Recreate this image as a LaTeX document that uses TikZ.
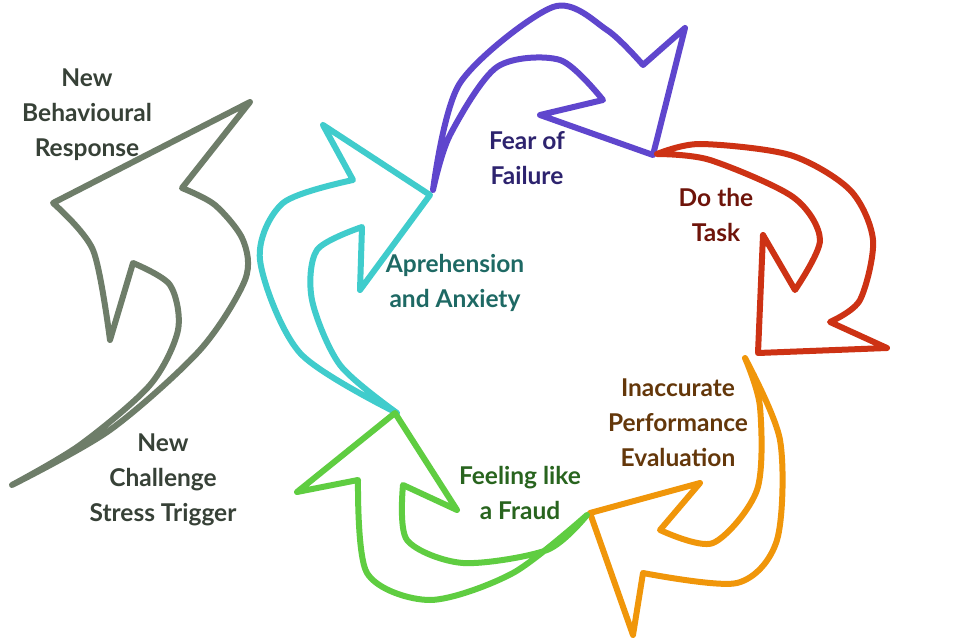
\documentclass[tikz,border=0pt]{standalone}
\usepackage{fontspec}
\setmainfont{Lato}
\definecolor{cgray}{RGB}{110,125,105}\definecolor{tgray}{RGB}{55,65,55}
\definecolor{ccyan}{RGB}{64,204,204}\definecolor{tcyan}{RGB}{30,105,100}
\definecolor{cpur}{RGB}{95,70,205}\definecolor{tpur}{RGB}{45,35,110}
\definecolor{cred}{RGB}{205,50,20}\definecolor{tred}{RGB}{110,20,10}
\definecolor{corg}{RGB}{240,150,10}\definecolor{torg}{RGB}{100,55,10}
\definecolor{cgrn}{RGB}{95,205,65}\definecolor{tgrn}{RGB}{40,100,30}
\begin{document}
\begin{tikzpicture}[x=1pt,y=-1pt,
  arr/.style={line width=6pt,line join=round,draw=#1,fill=white},
  lbl/.style={align=center,font=\bfseries\fontsize{24.5}{35}\selectfont}]
\useasboundingbox (0,0) rectangle (980,644);
% gray
\draw[arr=cgray] (12,485) -- plot[smooth] coordinates {(12,485)(110,430)(200,350)(245,280)(243,240)(215,205)(182,188)}
  -- (250,102) -- (53,203) -- plot[smooth] coordinates {(53,203)(93,250)(110,340)} -- (133,263)
  -- plot[smooth] coordinates {(133,263)(170,285)(178,330)(150,385)(80,445)(12,485)} -- cycle;
% cyan
\draw[arr=ccyan] (397,413) -- plot[smooth] coordinates {(397,413)(300,353)(260,260)(283,203)(353,180)}
  -- (323,125) -- (430,195) -- (360,290) -- (362,227)
  -- plot[smooth] coordinates {(362,227)(317,250)(312,300)(340,365)(397,413)} -- cycle;
% purple
\draw[arr=cpur] (433,190) -- plot[smooth] coordinates {(433,190)(460,83)(553,7)(607,30)(643,65)}
  -- (685,28) -- (653,155) -- (540,115) -- (603,100)
  -- plot[smooth] coordinates {(603,100)(560,60)(497,67)(450,135)(433,190)} -- cycle;
% red
\draw[arr=cred] (657,154) -- plot[smooth] coordinates {(657,154)(700,144)(790,155)(850,190)(873,240)(860,300)(830,322)}
  -- (887,348) -- (758,353) -- (763,235) -- (795,290)
  -- plot[smooth] coordinates {(795,290)(820,240)(793,197)(710,160)(657,154)} -- cycle;
% orange
\draw[arr=corg] (745,358) -- plot[smooth] coordinates {(745,358)(780,440)(777,540)(737,583)(643,573)}
  -- (633,635) -- (590,513) -- (700,483) -- (660,530)
  -- plot[smooth] coordinates {(660,530)(713,543)(757,490)(760,407)(745,358)} -- cycle;
% green
\draw[arr=cgrn] (587,515) -- plot[smooth] coordinates {(587,515)(513,573)(430,600)(367,573)(358,480)}
  -- (297,492) -- (395,413) -- (457,510) -- (403,485)
  -- plot[smooth] coordinates {(403,485)(407,540)(463,563)(547,550)(587,515)} -- cycle;
\node[lbl,tgray] (nbr) at (87,115) {New\\Behavioural\\Response};
\node[lbl,tgray] (ncs) at (163,480) {New\\Challenge\\Stress Trigger};
\node[lbl,tpur] (ff) at (527,158) {Fear of\\Failure};
\node[lbl,tred] (dt) at (716,215) {Do the\\Task};
\node[lbl,tcyan] (aa) at (455,283) {Aprehension\\and Anxiety};
\node[lbl,torg] (ipe) at (678,423) {Inaccurate\\Performance\\Evaluation};
\node[lbl,tgrn] (fr) at (520,493) {Feeling like\\a Fraud};
\end{tikzpicture}
\end{document}
